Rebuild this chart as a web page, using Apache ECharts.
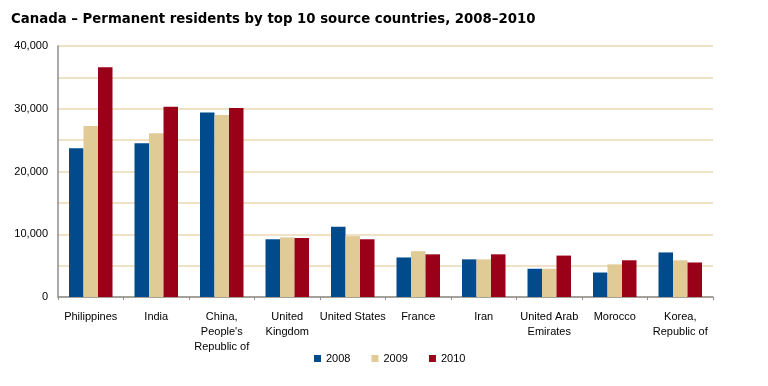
<!DOCTYPE html>
<html><head><meta charset="utf-8">
<script src="https://cdn.jsdelivr.net/npm/echarts@6/dist/echarts.min.js"></script>
<style>html,body{margin:0;padding:0;background:#fff}#c{width:768px;height:386px}</style>
</head><body><div id="c"></div>
<script>
const categories = ["Philippines","India","China,\nPeople's\nRepublic of","United\nKingdom","United States","France","Iran","United Arab\nEmirates","Morocco","Korea,\nRepublic of"];
const years = ["2008","2009","2010"];
const v2008 = [23700,24500,29400,9200,11200,6300,6000,4500,3900,7100];
const v2009 = [27250,26100,29000,9500,9700,7300,6000,4500,5200,5850];
const v2010 = [36600,30300,30100,9400,9200,6800,6800,6600,5850,5500];
const yTicks = [0,5000,10000,15000,20000,25000,30000,35000,40000];
const colors = ["#014a8c","#e0ca96","#9b0019"];

const chart = echarts.init(document.getElementById('c'));
const font = "'Liberation Sans', Arial, sans-serif";
chart.setOption({
  animation:false,
  title:{text:"Canada \u2013 Permanent residents by top 10 source countries, 2008\u20132010",left:6,top:8,
    textStyle:{fontFamily:"'DejaVu Sans', Verdana, sans-serif",fontWeight:'bold',fontSize:13.3,color:'#000'}},
  grid:{left:58,right:55,top:46,bottom:89},
  legend:{data:years,top:348,left:309,itemWidth:7,itemHeight:7,itemGap:21,icon:'rect',
    textStyle:{fontFamily:font,fontSize:11,color:'#000'}},
  xAxis:{type:'category',data:categories,
    axisLine:{lineStyle:{color:'#8c8c8c',width:1.5}},
    axisTick:{show:true,length:3,lineStyle:{color:'#8c8c8c'}},
    axisLabel:{fontFamily:font,fontSize:11,color:'#000',margin:12,lineHeight:15,interval:0}},
  yAxis:{type:'value',min:0,max:40000,interval:5000,
    axisLine:{show:true,lineStyle:{color:'#8c8c8c',width:1.5}},
    axisTick:{show:false},
    splitLine:{lineStyle:{color:'#ead9b5',width:1.5}},
    axisLabel:{fontFamily:font,fontSize:11,color:'#000',margin:10,
      formatter:v=> (v%10000===0 ? v.toLocaleString('en-US') : '')}},
  series:[
    {name:years[0],type:'bar',data:v2008,itemStyle:{color:colors[0]},barWidth:14.5,barGap:'0%'},
    {name:years[1],type:'bar',data:v2009,itemStyle:{color:colors[1]},barWidth:14.5,barGap:'0%'},
    {name:years[2],type:'bar',data:v2010,itemStyle:{color:colors[2]},barWidth:14.5,barGap:'0%'}
  ]
});
</script></body></html>
